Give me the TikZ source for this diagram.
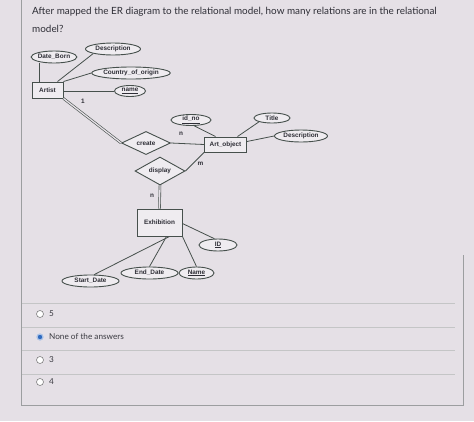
\documentclass[tikz,border=0pt]{standalone}
\usepackage{fontspec}
\setmainfont{Lato}
\newfontfamily\erfont{Liberation Sans}
\usetikzlibrary{shapes.geometric,calc}
\definecolor{bgc}{HTML}{E5E0E6}
\definecolor{linec}{HTML}{46504C}
\definecolor{txtc}{HTML}{2E2E36}
\definecolor{framec}{HTML}{9C9EA0}
\definecolor{radioc}{HTML}{2F6AC0}
\tikzset{
  erfnt/.style={font=\erfont\bfseries\fontsize{6.4}{7}\selectfont, text=txtc},
  attr/.style={ellipse, draw=linec, line width=0.9pt, fill=bgc!60!white, erfnt, inner sep=0pt},
  ent/.style={rectangle, draw=linec, line width=0.9pt, fill=bgc!60!white, erfnt, inner sep=0pt},
  rel/.style={diamond, draw=linec, line width=0.9pt, fill=bgc!60!white, erfnt, inner sep=0pt},
  conn/.style={draw=linec, line width=0.8pt},
  dconn/.style={draw=linec, line width=0.6pt, double=bgc, double distance=1.3pt},
  card/.style={erfnt, inner sep=0pt},
  qtext/.style={font=\fontsize{9.9}{12}\selectfont, text=txtc, anchor=west, inner sep=0pt},
  otext/.style={font=\fontsize{8.2}{10}\selectfont, text=txtc!85!gray, anchor=west, inner sep=0pt},
  radio/.style={circle, draw=gray, line width=0.6pt, fill=white, minimum size=7pt, inner sep=0pt},
  radiosel/.style={circle, draw=radioc!40!white, line width=1.2pt, fill=radioc, minimum size=6pt, inner sep=0pt},
  sep/.style={draw=framec!60!white, line width=0.5pt}
}
\begin{document}
\begin{tikzpicture}[x=1pt,y=-1pt]
\fill[bgc] (0,0) rectangle (474,421);
\useasboundingbox (0,0) rectangle (474,421);
% frame
\draw[framec, line width=0.6pt] (21,0) -- (21,405) -- (463,405) -- (463,255);
% question
\node[qtext] (q1) at (32,12) {After mapped the ER diagram to the relational model, how many relations are in the relational};
\node[qtext] (q2) at (32,29) {model?};
% ER diagram
\node[ent, minimum width=31pt, minimum height=16pt] (artist) at (47.5,90) {Artist};
\node[attr, minimum width=45pt, minimum height=12pt] (db) at (54,57) {Date\_Born};
\node[attr, minimum width=55pt, minimum height=12pt] (desca) at (113,49) {Description};
\node[attr, minimum width=78pt, minimum height=12pt] (coo) at (131,73) {Country\_of\_origin};
\node[attr, minimum width=31pt, minimum height=11pt] (name) at (130,91) {\underline{name}};
\node[rel, minimum width=49pt, minimum height=20pt] (create) at (146,143) {create};
\node[ent, minimum width=42pt, minimum height=15pt] (art) at (225.5,144.5) {Art\_object};
\node[attr, minimum width=40pt, minimum height=11pt] (idno) at (191,120) {\underline{id\_no}};
\node[attr, minimum width=36pt, minimum height=10pt] (title) at (272,118) {Title};
\node[attr, minimum width=53pt, minimum height=12pt] (descb) at (301,136) {Description};
\node[rel, minimum width=50pt, minimum height=18pt] (display) at (160,171) {display};
\node[ent, minimum width=45pt, minimum height=27pt] (exh) at (159.5,222.5) {Exhibition};
\node[attr, minimum width=38pt, minimum height=12pt] (id) at (218,245) {\underline{ID}};
\node[attr, minimum width=57pt, minimum height=12pt] (ed) at (149.5,273) {End\_Date};
\node[attr, minimum width=35pt, minimum height=12pt] (nm) at (196.5,273) {\underline{Name}};
\node[attr, minimum width=57pt, minimum height=12pt] (sd) at (90.5,281) {Start\_Date};
% connectors
\coordinate (dbfoot) at ($(artist.north west)+(8,0)$);
\draw[conn] (dbfoot) -- (dbfoot |- db.south);
\draw[conn] (desca.south west) -- ([xshift=10pt]artist.north);
\draw[conn] (coo.west) -- (artist.north east);
\draw[conn] (artist.east |- name.west) -- (name.west);
\draw[dconn] (artist.south east) -- (create.west);
\draw[conn] (create.east) -- (art.west);
\draw[conn] (idno.-60) -- ([xshift=-10pt]art.north);
\draw[conn] (title.south west) -- ([xshift=12pt]art.north);
\draw[conn] (descb.west) -- ([yshift=3pt]art.east);
\draw[conn] (display.east) -- (art.south west);
\draw[dconn] (display.south) -- (exh.north);
\draw[conn] ([yshift=-1pt]exh.east) -- (id.120);
\draw[conn] (sd.60) -- ([xshift=10pt]exh.south);
\draw[conn] (ed.north) -- ([xshift=7pt]exh.south);
\draw[conn] (nm.north) -- (exh.south east);
% cardinalities
\node[card] (c1) at (83,101) {1};
\node[card] (c2) at (181,134) {n};
\node[card] (c3) at (200.5,164) {m};
\node[card] (c4) at (152,196) {n};
% options
\draw[sep] (22,303) -- (455,303);
\draw[sep] (22,327) -- (455,327);
\draw[sep] (22,350) -- (455,350);
\draw[sep] (22,374) -- (455,374);
\node[radio] (r1) at (40,314) {};
\node[radiosel] (r2) at (40,337) {};
\node[radio] (r3) at (40,360) {};
\node[radio] (r4) at (40,382) {};
\node[otext] (o1) at (49,314) {5};
\node[otext] (o2) at (49,337) {None of the answers};
\node[otext] (o3) at (49,360) {3};
\node[otext] (o4) at (49,382) {4};
\end{tikzpicture}
\end{document}
